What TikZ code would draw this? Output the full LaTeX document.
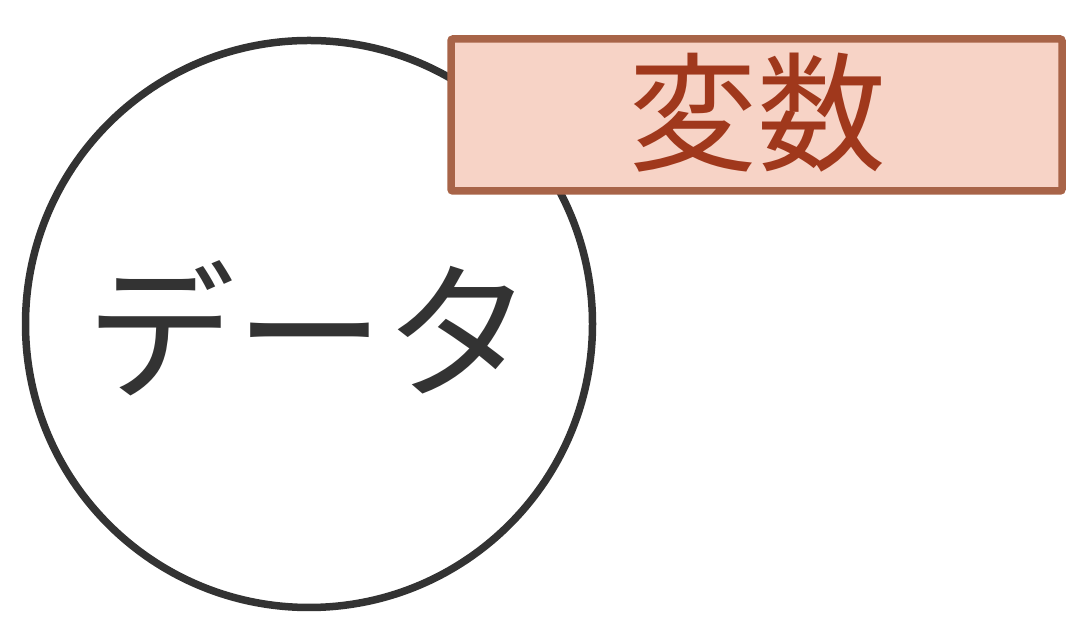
\documentclass[tikz,border=0pt]{standalone}
\usepackage{fontspec}
\newfontfamily\cjk{Noto Sans CJK JP}
\definecolor{circ}{HTML}{333333}
\definecolor{boxfill}{HTML}{F7D3C6}
\definecolor{boxdraw}{HTML}{A86448}
\definecolor{boxtext}{HTML}{A0381C}
\begin{document}
\begin{tikzpicture}[x=1pt,y=1pt,
  datacircle/.style={circle,draw=circ,line width=7.5pt,minimum size=567pt,inner sep=0pt,fill=white},
  varbox/.style={draw=boxdraw,fill=boxfill,line width=7.5pt,rounded corners=2pt,minimum width=611pt,minimum height=152pt,inner sep=0pt}]
\useasboundingbox (0,0) rectangle (1084,644);
\node[datacircle] (data) at (309,320) {};
\node[text=circ,font=\cjk\fontsize{149}{160}\selectfont] (datalabel) at (310,316) {データ};
\node[varbox] (var) at (756.5,529) {};
\node[text=boxtext,font=\cjk\fontsize{129}{140}\selectfont] (varlabel) at (757,531) {変数};
\end{tikzpicture}
\end{document}
